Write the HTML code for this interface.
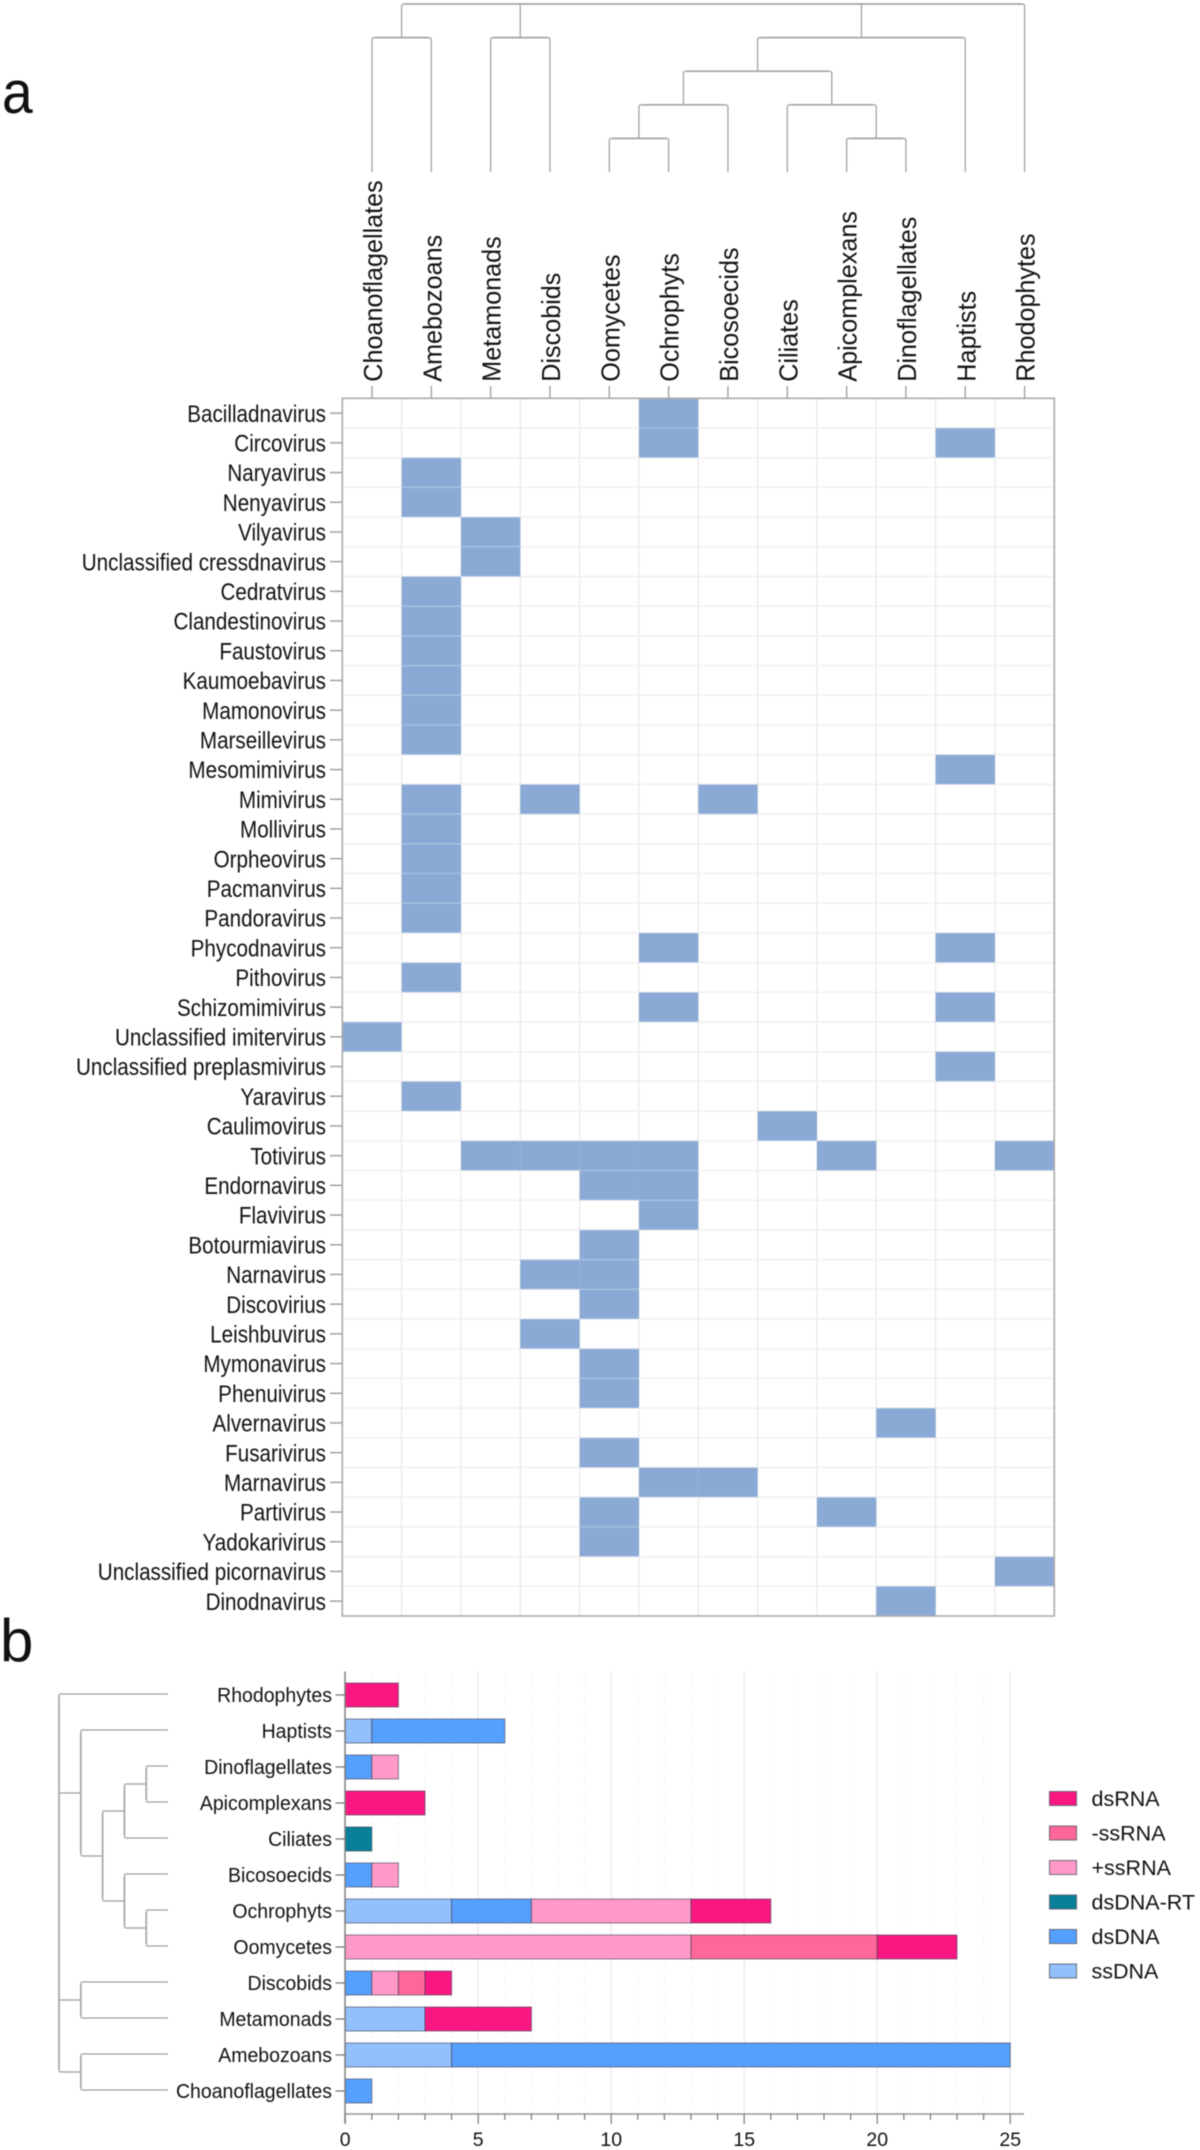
<!DOCTYPE html>
<html lang="en">
<head>
<meta charset="utf-8">
<title>Virus hosts across eukaryotic lineages</title>
<style>
html,body{margin:0;padding:0;background:#fff;}
#figure{display:block;width:1200px;height:2150px;font-family:"Liberation Sans",Arial,sans-serif;fill:#111;filter:blur(.4px);}
</style>
</head>
<body>
<svg id="figure" xmlns="http://www.w3.org/2000/svg" width="1200" height="2150" viewBox="0 0 1200 2150">
  <text x="2" y="113" font-size="60" transform="translate(2 113) scale(.92 1) translate(-2 -113)">a</text>
  <text x="0" y="1661" font-size="60">b</text>
  <g id="panelA"></g>
  <g id="panelB"></g>
</svg>
<script>
// ---------- data ----------
const hostLabels = ['Choanoflagellates','Amebozoans','Metamonads','Discobids','Oomycetes','Ochrophyts','Bicosoecids','Ciliates','Apicomplexans','Dinoflagellates','Haptists','Rhodophytes'];
const virusLabels = ['Bacilladnavirus','Circovirus','Naryavirus','Nenyavirus','Vilyavirus','Unclassified cressdnavirus','Cedratvirus','Clandestinovirus','Faustovirus','Kaumoebavirus','Mamonovirus','Marseillevirus','Mesomimivirus','Mimivirus','Mollivirus','Orpheovirus','Pacmanvirus','Pandoravirus','Phycodnavirus','Pithovirus','Schizomimivirus','Unclassified imitervirus','Unclassified preplasmivirus','Yaravirus','Caulimovirus','Totivirus','Endornavirus','Flavivirus','Botourmiavirus','Narnavirus','Discovirius','Leishbuvirus','Mymonavirus','Phenuivirus','Alvernavirus','Fusarivirus','Marnavirus','Partivirus','Yadokarivirus','Unclassified picornavirus','Dinodnavirus'];
const presence = [
 [0,0,0,0,0,1,0,0,0,0,0,0],
 [0,0,0,0,0,1,0,0,0,0,1,0],
 [0,1,0,0,0,0,0,0,0,0,0,0],
 [0,1,0,0,0,0,0,0,0,0,0,0],
 [0,0,1,0,0,0,0,0,0,0,0,0],
 [0,0,1,0,0,0,0,0,0,0,0,0],
 [0,1,0,0,0,0,0,0,0,0,0,0],
 [0,1,0,0,0,0,0,0,0,0,0,0],
 [0,1,0,0,0,0,0,0,0,0,0,0],
 [0,1,0,0,0,0,0,0,0,0,0,0],
 [0,1,0,0,0,0,0,0,0,0,0,0],
 [0,1,0,0,0,0,0,0,0,0,0,0],
 [0,0,0,0,0,0,0,0,0,0,1,0],
 [0,1,0,1,0,0,1,0,0,0,0,0],
 [0,1,0,0,0,0,0,0,0,0,0,0],
 [0,1,0,0,0,0,0,0,0,0,0,0],
 [0,1,0,0,0,0,0,0,0,0,0,0],
 [0,1,0,0,0,0,0,0,0,0,0,0],
 [0,0,0,0,0,1,0,0,0,0,1,0],
 [0,1,0,0,0,0,0,0,0,0,0,0],
 [0,0,0,0,0,1,0,0,0,0,1,0],
 [1,0,0,0,0,0,0,0,0,0,0,0],
 [0,0,0,0,0,0,0,0,0,0,1,0],
 [0,1,0,0,0,0,0,0,0,0,0,0],
 [0,0,0,0,0,0,0,1,0,0,0,0],
 [0,0,1,1,1,1,0,0,1,0,0,1],
 [0,0,0,0,1,1,0,0,0,0,0,0],
 [0,0,0,0,0,1,0,0,0,0,0,0],
 [0,0,0,0,1,0,0,0,0,0,0,0],
 [0,0,0,1,1,0,0,0,0,0,0,0],
 [0,0,0,0,1,0,0,0,0,0,0,0],
 [0,0,0,1,0,0,0,0,0,0,0,0],
 [0,0,0,0,1,0,0,0,0,0,0,0],
 [0,0,0,0,1,0,0,0,0,0,0,0],
 [0,0,0,0,0,0,0,0,0,1,0,0],
 [0,0,0,0,1,0,0,0,0,0,0,0],
 [0,0,0,0,0,1,1,0,0,0,0,0],
 [0,0,0,0,1,0,0,0,1,0,0,0],
 [0,0,0,0,1,0,0,0,0,0,0,0],
 [0,0,0,0,0,0,0,0,0,0,0,1],
 [0,0,0,0,0,0,0,0,0,1,0,0]
];
// Host tree: relative linkage heights (0 = leaf, 1 = root)
const hostTree = {h:1,kids:[
  {h:.8,kids:['Choanoflagellates','Amebozoans']},
  {h:.8,kids:['Metamonads','Discobids']},
  {h:.8,kids:[
    {h:.6,kids:[
      {h:.4,kids:[{h:.2,kids:['Oomycetes','Ochrophyts']},'Bicosoecids']},
      {h:.4,kids:['Ciliates',{h:.2,kids:['Apicomplexans','Dinoflagellates']}]}
    ]},
    'Haptists'
  ]},
  'Rhodophytes'
]};
const barCategories = ['Rhodophytes','Haptists','Dinoflagellates','Apicomplexans','Ciliates','Bicosoecids','Ochrophyts','Oomycetes','Discobids','Metamonads','Amebozoans','Choanoflagellates'];
const ssDNA    = [0,1,0,0,0,0,4,0,0,3,4,0];
const dsDNA    = [0,5,1,0,0,1,3,0,1,0,21,1];
const dsDNART  = [0,0,0,0,1,0,0,0,0,0,0,0];
const plusRNA  = [0,0,1,0,0,1,6,13,1,0,0,0];
const minusRNA = [0,0,0,0,0,0,0,7,1,0,0,0];
const dsRNA    = [2,0,0,3,0,0,3,3,1,4,0,0];
const seriesNames = ['ssDNA','dsDNA','dsDNA-RT','+ssRNA','-ssRNA','dsRNA'];
const seriesValues = [ssDNA,dsDNA,dsDNART,plusRNA,minusRNA,dsRNA];
const seriesColors = ['#91c0fc','#55a0ff','#08809a','#ff99c8','#ff6699','#fb1782'];
const legendOrder = ['dsRNA','-ssRNA','+ssRNA','dsDNA-RT','dsDNA','ssDNA'];
const xTickLabels = [0,5,10,15,20,25];
const xMinorTicks = [0,1,2,3,4,5,6,7,8,9,10,11,12,13,14,15,16,17,18,19,20,21,22,23,24,25];

// ---------- helpers ----------
const NS = 'http://www.w3.org/2000/svg';
function mk(tag, attrs, parent, txt){
  const e = document.createElementNS(NS, tag);
  for (const k in attrs) e.setAttribute(k, attrs[k]);
  if (txt !== undefined) e.textContent = txt;
  parent.appendChild(e);
  return e;
}
function slug(s){ return String(s).toLowerCase().replace(/\+/g,'plus-').replace(/[^a-z0-9]+/g,'-').replace(/^-|-$/g,''); }

const panelA = document.getElementById('panelA');
const panelB = document.getElementById('panelB');

// ---------- panel a axes ----------
const hmLeft = 342.3, hmTop = 398.3, colW = 59.33, rowH = 29.7;
const colX = i => hmLeft + i * colW;
const rowY = i => hmTop + i * rowH;
const hmRight = colX(hostLabels.length), hmBottom = rowY(virusLabels.length);

// grid under cells
for (let i = 1; i < hostLabels.length; i++){
  const g = mk('line',{x1:colX(i),x2:colX(i),y1:hmTop,y2:hmBottom,stroke:'#ececec','stroke-width':1.5},panelA);
  
  
}
for (let i = 1; i < virusLabels.length; i++){
  const g = mk('line',{x1:hmLeft,x2:hmRight,y1:rowY(i),y2:rowY(i),stroke:'#ececec','stroke-width':1.5},panelA);
  
  
}
// cells
presence.forEach((row,r)=>{
  row.forEach((v,c)=>{
    if(!v) return;
    const cell = mk('rect',{x:colX(c),y:rowY(r),width:colW,height:rowH,fill:'#8aaad5'},panelA);
    
    
  });
});
// light grid over cells
for (let i = 1; i < virusLabels.length; i++){
  const g = mk('line',{x1:hmLeft,x2:hmRight,y1:rowY(i),y2:rowY(i),stroke:'#fff','stroke-opacity':.22,'stroke-width':1.5},panelA);
  
  
}
// frame
const frame = mk('rect',{x:hmLeft,y:hmTop,width:hmRight-hmLeft,height:hmBottom-hmTop,fill:'none',stroke:'#ababab','stroke-width':1.6},panelA);



// row labels and ticks
virusLabels.forEach((name,i)=>{
  const cy = rowY(i) + rowH/2;
  const t = mk('line',{x1:330,x2:hmLeft,y1:cy,y2:cy,stroke:'#9a9a9a','stroke-width':1.4},panelA);
  
  
  const lb = mk('text',{'font-size':24,'text-anchor':'end',transform:`translate(326 ${cy+8.6}) scale(.86 1)`},panelA,name);
  
  
});
// column labels and ticks
hostLabels.forEach((name,i)=>{
  const cx = colX(i) + colW/2;
  const t = mk('line',{x1:cx,x2:cx,y1:386,y2:hmTop,stroke:'#9a9a9a','stroke-width':1.3},panelA);
  
  
  const lb = mk('text',{'font-size':26,transform:`translate(${cx+10} 381.7) rotate(-90) scale(.968 1)`},panelA,name);
  
  
});

// ---------- dendrograms ----------
function drawTree(node, leafPos, project, parent, dataName, strokeW){
  function walk(n){
    if (typeof n === 'string') return {c:leafPos(n),h:0};
    const kids = n.kids.map(walk);
    const cs = kids.map(k=>k.c);
    const lo = Math.min(...cs), hi = Math.max(...cs);
    const r = 3;
    // horizontal bar with softened corners and a drop to each child
    kids.forEach(k=>{
      const a = project(k.c, k.h), b = project(k.c, n.h - .012), 
            inner = k.c===lo ? lo+r : k.c===hi ? hi-r : k.c,
            end = project(inner, n.h);
      const seg = mk('path',{d:`M${a[0]} ${a[1]}L${b[0]} ${b[1]}Q${project(k.c,n.h)[0]} ${project(k.c,n.h)[1]} ${end[0]} ${end[1]}`,fill:'none',stroke:'#9c9c9c','stroke-width':strokeW},parent);
      
      
    });
    const p1 = project(lo+r,n.h), p2 = project(hi-r,n.h);
    const bar = mk('line',{x1:p1[0],y1:p1[1],x2:p2[0],y2:p2[1],stroke:'#a4a4a4','stroke-width':strokeW+.5},parent);
    
    
    return {c:(lo+hi)/2,h:n.h};
  }
  walk(node);
}
const treeA = mk('g',{},panelA);


const treeAY = h => 172 - 168*h;
drawTree(hostTree, n => colX(hostLabels.indexOf(n)) + colW/2, (c,h)=>[c,treeAY(h)], treeA, 'top-dendrogram', 1.2);

// ---------- panel b axes ----------
const barX = v => 345.2 + v * 26.6;
const barY = i => 1695 + i * 36;
const barH = 24;
const axisY = 2114;

xMinorTicks.forEach(v=>{
  if (v === 0) return;
  const major = xTickLabels.includes(v);
  const g = mk('line',{x1:barX(v),x2:barX(v),y1:1671.5,y2:axisY,stroke:major?'#ececec':'#f1f1f1','stroke-width':major?1.5:1,'stroke-dasharray':major?'none':'2 3'},panelB);
  
  
});

// stacked bars
barCategories.forEach((cat,i)=>{
  let acc = 0;
  seriesValues.forEach((vals,s)=>{
    const v = vals[i];
    if(!v) return;
    const seg = mk('rect',{x:barX(acc),y:barY(i)-barH/2,width:barX(acc+v)-barX(acc),height:barH,fill:seriesColors[s],stroke:'#3c3c50','stroke-opacity':.6,'stroke-width':1},panelB);
    
    
    acc += v;
  });
  const t = mk('line',{x1:335.5,x2:345,y1:barY(i),y2:barY(i),stroke:'#777','stroke-width':1.3},panelB);
  
  
  const lb = mk('text',{'font-size':20.5,'text-anchor':'end',transform:`translate(332 ${barY(i)+7}) scale(.951 1)`},panelB,cat);
  
  
});

// axes
const yAxis = mk('line',{x1:345,x2:345,y1:1671.5,y2:2123,stroke:'#808080','stroke-width':1.5},panelB);


const xAxis = mk('line',{x1:345,x2:1024,y1:axisY,y2:axisY,stroke:'#969696','stroke-width':1.5},panelB);


xMinorTicks.forEach(v=>{
  const major = xTickLabels.includes(v);
  const t = mk('line',{x1:barX(v),x2:barX(v),y1:axisY,y2:axisY+(major?10:6),stroke:'#777','stroke-width':1.2},panelB);
  
  
});
xTickLabels.forEach(v=>{
  const lb = mk('text',{x:barX(v),y:2146,'font-size':19.5,'text-anchor':'middle'},panelB,String(v));
  
  
});

// left dendrogram
const treeB = mk('g',{},panelB);


const treeBX = h => 168 - 109*h;
drawTree(hostTree, n => barY(barCategories.indexOf(n)) - 1, (c,h)=>[treeBX(h),c], treeB, 'left-dendrogram', 1.2);

// legend
legendOrder.forEach((name,i)=>{
  const cy = 1798.5 + i * 34.5;
  const s = seriesNames.indexOf(name);
  const sw = mk('rect',{x:1049.5,y:cy-7,width:27,height:14,fill:seriesColors[s],stroke:'#5a5a6a','stroke-opacity':.8,'stroke-width':1.1},panelB);
  
  
  const lb = mk('text',{x:1091.5,y:cy+7.4,'font-size':21.5},panelB,name);
  
  
});
</script>
</body>
</html>
